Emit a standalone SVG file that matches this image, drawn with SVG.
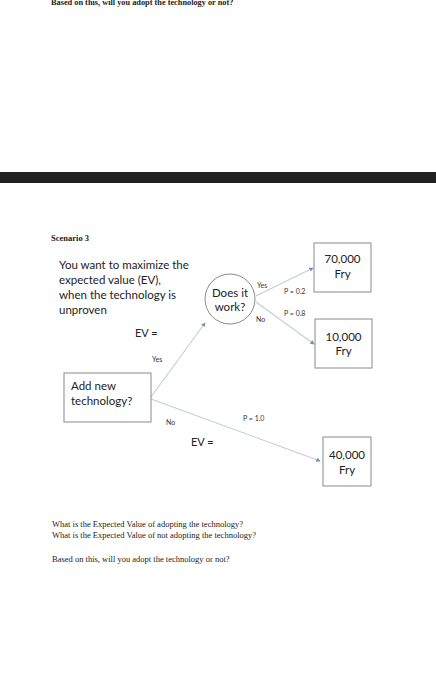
<svg xmlns="http://www.w3.org/2000/svg" width="436" height="700" viewBox="0 0 436 700">
<defs>
<marker id="arr" viewBox="0 0 6 6" refX="5" refY="3" markerWidth="4" markerHeight="4" orient="auto">
<path d="M0,0 L6,3 L0,6 z" fill="#6f8fb8"/>
</marker>
<style>
.serif{font-family:"Liberation Serif","Times New Roman",serif;fill:#222}
.sans{font-family:Lato,"Liberation Sans",sans-serif;fill:#222}
.box{fill:#fff;stroke:#8a8a8a;stroke-width:1}
.conn{stroke:#c3ccd8;stroke-width:1.1;fill:none;marker-end:url(#arr)}
.lbl{font-family:Lato,"Liberation Sans",sans-serif;fill:#333;font-size:7px}
.big{font-size:11.5px}
.mid{font-size:11.5px}
</style>
</defs>
<rect width="436" height="700" fill="#fff"/>
<text class="serif" x="51" y="5" font-size="8.3" font-weight="bold" fill="#333">Based on this, will you adopt the technology or not?</text>
<rect x="0" y="172" width="436" height="11" fill="#222"/>
<text class="serif" x="51" y="241" font-size="8.5" font-weight="bold">Scenario 3</text>
<g id="intro" class="sans big">
<text x="59" y="269">You want to maximize the</text>
<text x="59" y="284">expected value (EV),</text>
<text x="59" y="299">when the technology is</text>
<text x="59" y="314">unproven</text>
</g>
<g id="connectors">
<line class="conn" x1="151" y1="397" x2="205" y2="323"/>
<line class="conn" x1="151" y1="399" x2="320" y2="461"/>
<line class="conn" x1="256" y1="296" x2="313" y2="268"/>
<line class="conn" x1="256" y1="302" x2="314" y2="344"/>
</g>
<g id="labels">
<text class="lbl" x="257" y="288">Yes</text>
<text class="lbl" x="256" y="322">No</text>
<text class="lbl" x="284" y="294">P = 0.2</text>
<text class="lbl" x="284" y="316">P = 0.8</text>
<text class="lbl" x="152" y="362">Yes</text>
<text class="lbl" x="166" y="425">No</text>
<text class="lbl" x="243" y="421">P = 1.0</text>
<text class="sans" x="135" y="337" font-size="11">EV =</text>
<text class="sans" x="191" y="446" font-size="11">EV =</text>
</g>
<g id="node-work">
<circle cx="230" cy="299" r="25" fill="#fff" stroke="#8a8a8a"/>
<text class="sans mid" x="230" y="297" text-anchor="middle">Does it</text>
<text class="sans mid" x="230" y="311" text-anchor="middle">work?</text>
</g>
<g id="node-add">
<rect class="box" x="64" y="373" width="87" height="49"/>
<text class="sans mid" x="71" y="390">Add new</text>
<text class="sans mid" x="71" y="405">technology?</text>
</g>
<g id="node-70000">
<rect class="box" x="314" y="243" width="57" height="49"/>
<text class="sans mid" x="342.5" y="263" text-anchor="middle">70,000</text>
<text class="sans mid" x="342.5" y="278" text-anchor="middle">Fry</text>
</g>
<g id="node-10000">
<rect class="box" x="315" y="319" width="57" height="49"/>
<text class="sans mid" x="343.5" y="341" text-anchor="middle">10,000</text>
<text class="sans mid" x="343.5" y="355" text-anchor="middle">Fry</text>
</g>
<g id="node-40000">
<rect class="box" x="323" y="437" width="48" height="49"/>
<text class="sans mid" x="347" y="459" text-anchor="middle">40,000</text>
<text class="sans mid" x="347" y="474" text-anchor="middle">Fry</text>
</g>
<g id="questions" class="serif" font-size="8.5">
<text x="52" y="527">What is the Expected Value of adopting the technology?</text>
<text x="52" y="538">What is the Expected Value of not adopting the technology?</text>
<text x="52" y="562">Based on this, will you adopt the technology or not?</text>
</g>
</svg>
